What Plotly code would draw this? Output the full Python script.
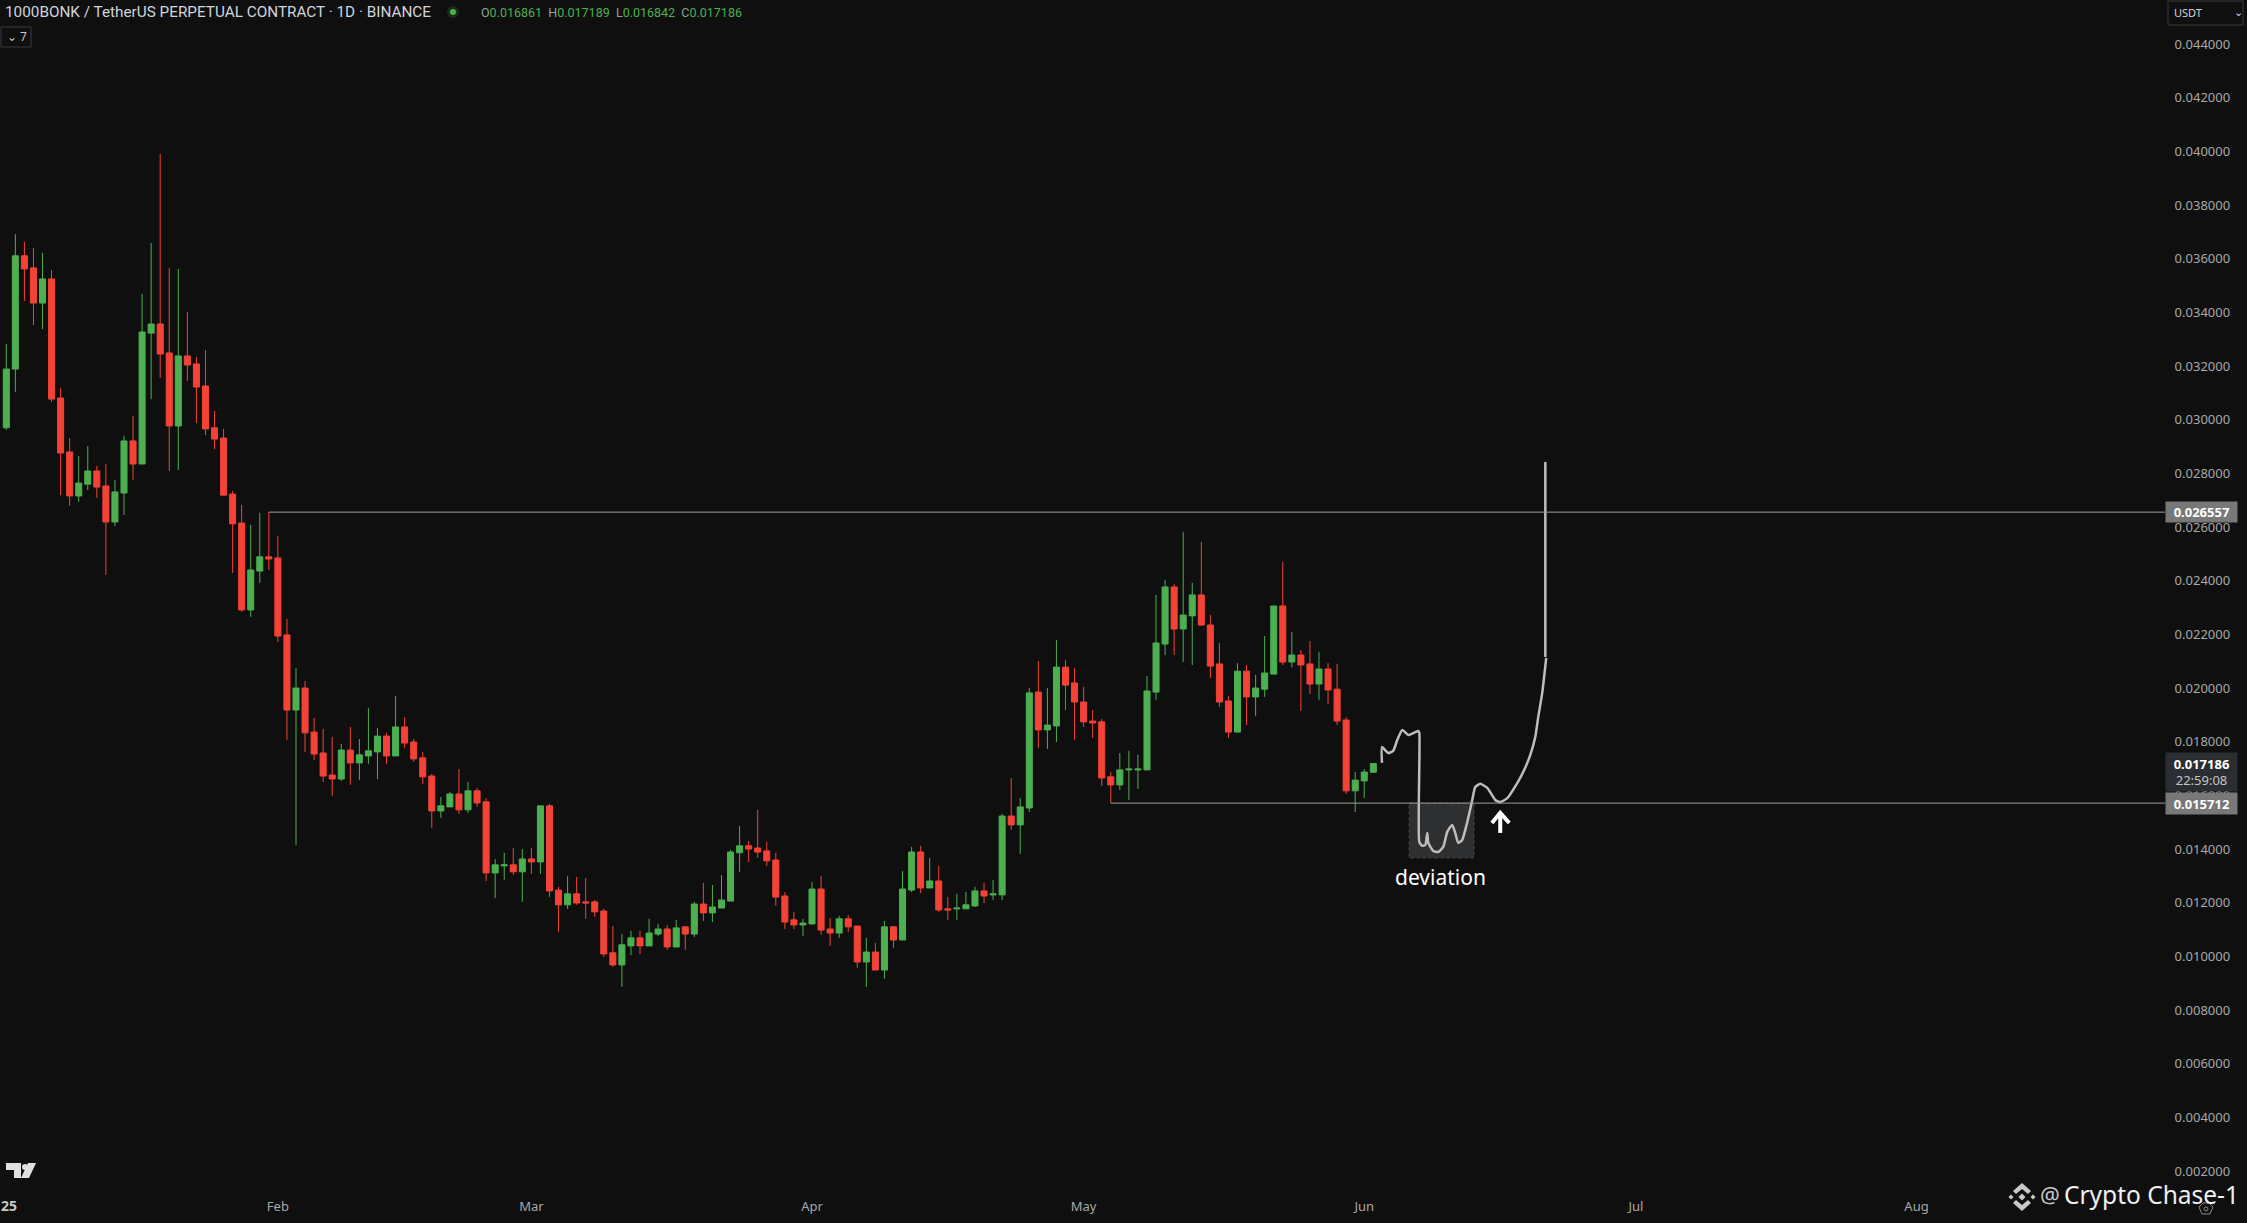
#!/usr/bin/env python3

import numpy as np
import pandas as pd
import plotly.graph_objects as go

# ============================================================
# DATA (prices x 1000)
# ============================================================

opens_k = [
    29.70, 31.89, 36.11, 35.66, 34.35, 35.25, 30.81, 28.80, 27.16, 27.60,
    28.09, 27.53, 26.19, 27.27, 29.21, 28.35, 33.23, 33.57, 32.49, 29.77,
    32.38, 32.08, 31.26, 29.70, 29.32, 27.23, 26.15, 22.91, 24.36, 24.89,
    24.85, 21.98, 19.18, 20.00, 18.36, 17.58, 16.76, 16.61, 17.69, 17.21,
    17.47, 17.62, 18.21, 17.47, 18.55, 17.99, 17.40, 16.72, 15.42, 15.57,
    16.05, 15.46, 16.17, 15.76, 13.11, 13.37, 13.41, 13.15, 13.63, 13.52,
    15.61, 12.47, 11.92, 12.33, 12.03, 12.03, 11.69, 10.13, 9.68, 10.39,
    10.69, 10.39, 10.83, 11.02, 10.35, 11.10, 10.83, 11.95, 11.62, 11.80,
    12.06, 13.86, 14.12, 14.04, 13.93, 13.59, 12.25, 11.36, 11.17, 11.21,
    12.51, 11.02, 10.87, 11.40, 11.13, 9.79, 10.16, 9.49, 11.10, 10.61,
    12.47, 13.89, 12.55, 12.81, 11.77, 11.77, 11.77, 11.88, 12.44, 12.29,
    12.29, 15.23, 14.90, 15.53, 19.85, 18.44, 18.59, 20.78, 20.19, 19.48,
    18.77, 18.74, 16.69, 16.39, 16.95, 16.95, 16.95, 19.85, 21.64, 23.77,
    22.20, 22.69, 23.47, 22.35, 20.90, 19.52, 18.36, 20.63, 19.67, 19.96,
    20.52, 23.06, 20.97, 21.23, 20.90, 20.15, 20.71, 19.96, 18.81, 16.17,
    16.54, 16.861,
]
highs_k = [
    32.82, 36.92, 36.63, 36.40, 36.22, 35.58, 31.19, 29.32, 28.65, 29.02,
    28.28, 28.35, 27.76, 29.40, 30.14, 34.69, 36.59, 39.91, 35.66, 35.62,
    34.02, 32.34, 32.60, 30.33, 29.66, 27.35, 26.82, 26.08, 26.53, 26.56,
    25.67, 22.58, 20.75, 20.26, 18.89, 18.48, 18.18, 17.92, 18.55, 18.10,
    19.26, 18.51, 18.33, 19.70, 18.92, 18.10, 17.62, 16.80, 15.94, 16.13,
    16.98, 16.50, 16.28, 15.90, 13.63, 13.86, 14.04, 14.00, 14.04, 15.61,
    15.68, 12.59, 12.99, 12.96, 12.92, 12.10, 11.77, 11.13, 10.83, 10.95,
    10.95, 11.40, 11.21, 11.17, 11.36, 11.10, 12.03, 12.74, 12.66, 13.03,
    13.97, 14.86, 14.30, 15.46, 14.27, 13.86, 12.40, 11.66, 11.40, 12.77,
    12.99, 11.43, 11.51, 11.54, 11.13, 10.69, 10.50, 11.32, 11.13, 13.18,
    14.08, 14.12, 13.67, 13.37, 12.21, 12.33, 12.40, 12.59, 12.74, 12.85,
    15.31, 16.65, 15.90, 20.00, 21.01, 20.00, 21.79, 21.05, 20.75, 20.04,
    19.18, 18.85, 16.87, 17.58, 17.66, 17.51, 20.45, 23.47, 24.03, 23.88,
    25.82, 23.92, 25.45, 22.72, 21.68, 19.70, 20.93, 20.86, 20.49, 21.94,
    23.06, 24.70, 22.09, 21.42, 21.75, 21.35, 20.93, 20.90, 18.92, 16.87,
    16.98, 17.189,
]
lows_k = [
    29.62, 31.04, 34.43, 33.53, 33.38, 30.66, 27.19, 26.79, 26.94, 27.38,
    27.09, 24.22, 26.04, 26.45, 27.76, 28.35, 30.77, 31.56, 28.09, 28.13,
    31.45, 29.88, 29.43, 28.91, 27.19, 24.29, 22.84, 22.65, 23.92, 24.40,
    21.72, 18.07, 14.15, 17.62, 17.32, 16.50, 15.98, 16.54, 16.39, 16.57,
    17.17, 16.61, 17.17, 17.47, 17.77, 17.25, 16.42, 14.79, 15.16, 15.57,
    15.31, 15.35, 15.57, 12.81, 12.17, 12.85, 13.04, 12.03, 13.07, 13.07,
    12.21, 10.91, 11.77, 11.92, 11.40, 11.47, 9.98, 9.60, 8.86, 10.05,
    10.09, 10.39, 10.76, 10.24, 10.35, 10.24, 10.72, 11.32, 11.28, 11.80,
    12.06, 13.15, 13.52, 13.67, 13.37, 11.88, 11.02, 11.02, 10.76, 11.17,
    10.80, 10.39, 10.69, 10.91, 9.57, 8.86, 9.49, 9.16, 10.31, 10.61,
    12.40, 12.36, 12.55, 11.66, 11.36, 11.36, 11.77, 11.84, 11.99, 12.10,
    12.10, 14.71, 13.82, 15.38, 17.77, 17.73, 17.99, 19.18, 18.07, 18.55,
    18.14, 16.35, 15.72, 16.20, 15.83, 16.24, 16.95, 19.56, 21.23, 21.23,
    20.97, 20.86, 22.31, 20.38, 19.30, 18.14, 18.36, 18.62, 18.96, 19.67,
    20.52, 20.86, 20.78, 19.15, 19.78, 19.56, 19.41, 18.62, 16.05, 15.38,
    15.90, 16.842,
]
closes_k = [
    31.89, 36.11, 35.62, 34.35, 35.25, 30.77, 28.76, 27.16, 27.64, 28.09,
    27.49, 26.19, 27.31, 29.21, 28.35, 33.27, 33.57, 32.45, 29.77, 32.38,
    32.04, 31.22, 29.66, 29.28, 27.19, 26.12, 22.91, 24.40, 24.89, 24.81,
    21.94, 19.18, 20.00, 18.33, 17.54, 16.72, 16.61, 17.69, 17.21, 17.51,
    17.66, 18.21, 17.47, 18.55, 17.95, 17.36, 16.69, 15.42, 15.61, 16.05,
    15.46, 16.17, 15.72, 13.11, 13.41, 13.41, 13.15, 13.63, 13.52, 15.61,
    12.44, 11.92, 12.33, 11.99, 11.99, 11.66, 10.09, 9.68, 10.43, 10.69,
    10.39, 10.87, 11.02, 10.35, 11.06, 10.83, 11.95, 11.62, 11.84, 12.10,
    13.89, 14.12, 14.00, 13.89, 13.56, 12.21, 11.28, 11.17, 11.24, 12.51,
    10.98, 10.87, 11.40, 11.10, 9.79, 10.16, 9.49, 11.10, 10.61, 12.51,
    13.89, 12.55, 12.81, 11.73, 11.73, 11.80, 11.92, 12.44, 12.25, 12.33,
    15.23, 14.90, 15.57, 19.82, 18.44, 18.62, 20.78, 20.11, 19.48, 18.74,
    18.70, 16.65, 16.39, 16.95, 16.98, 16.98, 19.89, 21.68, 23.77, 22.20,
    22.72, 23.47, 22.35, 20.82, 19.48, 18.36, 20.63, 19.67, 20.00, 20.56,
    23.06, 20.97, 21.23, 20.86, 20.15, 20.71, 19.93, 18.77, 16.17, 16.57,
    16.87, 17.186,
]

# hand drawn projection, x in fractional days of June 2025
sketch_days = [2.96, 2.96, 3.65, 4.20, 4.65, 5.20, 5.86, 6.63, 6.96, 7.08, 7.08, 7.41, 7.74, 7.96, 8.07,
               8.62, 9.17, 9.73, 10.17, 10.72, 11.05, 11.38, 11.82, 12.38, 12.93, 13.26, 13.81, 14.59,
               15.47, 16.02, 16.80, 17.90, 18.56, 19.34, 19.89, 20.22, 20.66, 21.10]
sketch_k = [17.21, 17.80, 17.58, 17.66, 18.07, 18.44, 18.25, 18.36, 18.40, 18.33, 14.27, 14.12, 14.15, 14.60,
            14.23, 13.93, 13.89, 14.08, 14.64, 14.90, 14.60, 14.23, 14.34, 15.01, 15.83, 16.31, 16.43,
            16.28, 15.83, 15.75, 15.90, 16.46, 16.87, 17.51, 18.18, 18.92, 19.82, 21.12]
spike_days = [21.0, 21.0]
spike_k = [21.16, 28.43]

arrow_days = [15.1, 16.02, 17.02, None, 16.02, 16.02]
arrow_k = [14.97, 15.35, 14.97, None, 15.35, 14.60]

level_high = 0.026557
level_low = 0.015712
deviation_floor = 0.01367

y_ticks = [round(0.002 * n, 3) for n in range(1, 23)]
x_tick_dates = ["2025-02-01", "2025-03-01", "2025-04-01", "2025-05-01", "2025-06-01", "2025-07-01", "2025-08-01"]
x_tick_text = ["Feb", "Mar", "Apr", "May", "Jun", "Jul", "Aug"]

title_text = "1000BONK / TetherUS PERPETUAL CONTRACT · 1D · BINANCE"
last_close_text = "0.017186"
countdown_text = "22:59:08"

# ============================================================
# SETTINGS
# ============================================================

BG = "#0F0F0F"
GREEN = "#4CAF50"
RED = "#F44336"
LEVEL = "#9E9E9E"
SKETCH = "#BDBDBD"
AXIS_TEXT = "#A8A8A8"

W, H = 2247, 1223
PLOT_W, PLOT_H = 2165, 1193


def june(days):
    return [None if d is None else pd.Timestamp("2025-05-31") + pd.Timedelta(days=d) for d in days]


def milli(values):
    return [None if v is None else v / 1000 for v in values]


def px(x):
    return x / PLOT_W


def py(y):
    return 1 - y / PLOT_H


def poly(points, close=True):
    path = "M " + " L ".join(f"{px(x):.5f},{py(y):.5f}" for x, y in points)
    return path + (" Z" if close else "")


dates = pd.date_range("2025-01-02", periods=len(opens_k))

# ============================================================
# CREATE FIGURE
# ============================================================

fig = go.Figure()

fig.add_trace(go.Candlestick(
    x=dates,
    open=np.array(opens_k) / 1000,
    high=np.array(highs_k) / 1000,
    low=np.array(lows_k) / 1000,
    close=np.array(closes_k) / 1000,
    increasing=dict(line=dict(color=GREEN, width=1), fillcolor=GREEN),
    decreasing=dict(line=dict(color=RED, width=1), fillcolor=RED),
    whiskerwidth=0,
    hoverinfo="skip",
))

fig.add_trace(go.Scatter(
    x=june(sketch_days), y=milli(sketch_k), mode="lines",
    line=dict(color=SKETCH, width=2.5, shape="spline", smoothing=0.5), hoverinfo="skip",
))
fig.add_trace(go.Scatter(
    x=june(spike_days), y=milli(spike_k), mode="lines",
    line=dict(color=SKETCH, width=2.5), hoverinfo="skip",
))
fig.add_trace(go.Scatter(
    x=june(arrow_days), y=milli(arrow_k), mode="lines",
    line=dict(color="white", width=4), connectgaps=False, hoverinfo="skip",
))

# ============================================================
# LEVELS AND BOXES
# ============================================================

shapes = [
    dict(type="rect", layer="below", xref="x", yref="y",
         x0="2025-06-05 23:00", x1="2025-06-13 03:00", y0=level_low, y1=deviation_floor,
         fillcolor="#2E2F31", line=dict(color="#4A4A4A", width=1, dash="dot")),
    dict(type="line", xref="x", yref="y", x0="2025-01-31", x1="2025-08-28 10:48",
         y0=level_high, y1=level_high, line=dict(color=LEVEL, width=1)),
    dict(type="line", xref="x", yref="y", x0="2025-05-04", x1="2025-08-28 10:48",
         y0=level_low, y1=level_low, line=dict(color=LEVEL, width=1)),
    # USDT and legend buttons
    dict(type="rect", xref="paper", yref="paper", x0=px(2168), x1=px(2243), y0=py(25), y1=py(1),
         line=dict(color="#363A45", width=1), fillcolor="rgba(0,0,0,0)"),
    dict(type="rect", xref="paper", yref="paper", x0=px(1), x1=px(31), y0=py(47), y1=py(27),
         line=dict(color="#363A45", width=1), fillcolor="rgba(0,0,0,0)"),
    # status dot
    dict(type="circle", xref="paper", yref="paper", x0=px(447), x1=px(459), y0=py(18), y1=py(6),
         line=dict(width=0), fillcolor="rgba(76,175,80,0.18)"),
    dict(type="circle", xref="paper", yref="paper", x0=px(450), x1=px(456), y0=py(15), y1=py(9),
         line=dict(width=0), fillcolor=GREEN),
]

# TradingView mark
shapes.append(dict(type="path", xref="paper", yref="paper", line=dict(width=0), fillcolor="#E0E0E0",
                   path=poly([(6, 1163), (21, 1163), (21, 1178), (14, 1178), (14, 1170), (6, 1170)])))
shapes.append(dict(type="circle", xref="paper", yref="paper", line=dict(width=0), fillcolor="#E0E0E0",
                   x0=px(22), x1=px(28), y0=py(1170), y1=py(1164)))
shapes.append(dict(type="path", xref="paper", yref="paper", line=dict(width=0), fillcolor="#E0E0E0",
                   path=poly([(28, 1163), (36, 1163), (29, 1178), (21, 1178)])))

# Binance mark
cx, cy = 2022, 1197
for dx, dy, r in [(0, 0, 3.5), (-11, 0, 2.5), (11, 0, 2.5)]:
    shapes.append(dict(type="path", xref="paper", yref="paper", line=dict(width=0), fillcolor="#C9C9C9",
                       path=poly([(cx + dx - r, cy + dy), (cx + dx, cy + dy - r),
                                  (cx + dx + r, cy + dy), (cx + dx, cy + dy + r)])))
for sign in (-1, 1):
    shapes.append(dict(type="path", xref="paper", yref="paper", line=dict(width=0), fillcolor="#C9C9C9",
                       path=poly([(cx - 9, cy + sign * 6), (cx, cy + sign * 14), (cx + 9, cy + sign * 6),
                                  (cx + 6, cy + sign * 3), (cx, cy + sign * 8), (cx - 6, cy + sign * 3)])))

# settings hexagon, half hidden under the watermark
hx, hy = 2206, 1209
shapes.append(dict(type="path", xref="paper", yref="paper", line=dict(color="#8A8A8A", width=1),
                   path=poly([(hx - 7, hy - 2), (hx - 3, hy - 6), (hx + 3, hy - 6),
                              (hx + 7, hy - 2), (hx + 4, hy + 5), (hx - 4, hy + 5)])))
shapes.append(dict(type="circle", xref="paper", yref="paper", line=dict(color="#8A8A8A", width=1),
                   x0=px(hx - 2), x1=px(hx + 2), y0=py(hy + 2), y1=py(hy - 2)))

# ============================================================
# TEXT
# ============================================================


def note(x, y, text, size=13, color="white", family="Noto Sans", anchor="left"):
    return dict(xref="paper", yref="paper", x=px(x), y=py(y), text=text, showarrow=False,
                xanchor=anchor, yanchor="middle", align="left",
                font=dict(family=family, size=size, color=color))


def price_tag(value, text, fill, height):
    return dict(xref="paper", yref="y", x=1, y=value, text=text, showarrow=False, xanchor="left",
                yanchor="middle", width=71, height=height, bgcolor=fill, borderpad=0,
                font=dict(family="Noto Sans", size=13, color="white"))


ohlc_text = (
    '<span style="color:#8FA590">O</span>0.016861  '
    '<span style="color:#8FA590">H</span>0.017189  '
    '<span style="color:#8FA590">L</span>0.016842  '
    '<span style="color:#8FA590">C</span>0.017186'
)

annotations = [
    note(3, 12, title_text, size=15.3, color="#D1D4DC", family="Roboto"),
    note(479, 12, ohlc_text, size=12.5, color=GREEN, family="Roboto"),
    note(5, 37, "⌄ 7", size=12, color="#C8C8C8"),
    note(2172, 12, "USDT", size=11, color="#D1D4DC"),
    note(2232, 11, "⌄", size=11, color="#D1D4DC"),
    note(-1, 1206, "<b>25</b>", size=14, color="#C8C8C8"),
    note(2038, 1194, "@", size=22, color="#C9C9C9"),
    note(2062, 1194, "Crypto Chase-1", size=24.5, color="#F0F0F0"),
    price_tag(level_high, f"<b>{level_high:.6f}</b>", "#787878", 20),
    price_tag(0.01689, f"<b>{last_close_text}</b><br><span style=\"color:#C4C4C4\">{countdown_text}</span>",
              "#2A2E33", 38),
    price_tag(level_low, f"<b>{level_low:.6f}</b>", "#787878", 21),
    dict(xref="x", yref="y", x=june([9.47])[0], y=0.01296, text="deviation", showarrow=False,
         font=dict(family="Noto Sans", size=21, color="white")),
]

# ============================================================
# LAYOUT
# ============================================================

fig.update_layout(
    width=W,
    height=H,
    autosize=False,
    paper_bgcolor=BG,
    plot_bgcolor=BG,
    showlegend=False,
    margin=dict(l=0, r=W - PLOT_W, t=0, b=H - PLOT_H, pad=0),
    hovermode=False,
    boxgap=0.2,
    boxgroupgap=0.167,
    shapes=shapes,
    annotations=annotations,
    xaxis=dict(
        range=["2025-01-01 07:18", "2025-08-28 10:48"],
        tickmode="array", tickvals=x_tick_dates, ticktext=x_tick_text,
        showgrid=False, zeroline=False, showline=False,
        ticks="outside", ticklen=1, tickcolor=BG,
        tickfont=dict(family="Noto Sans", size=13, color=AXIS_TEXT),
        rangeslider=dict(visible=False),
    ),
    yaxis=dict(
        side="right",
        range=[0.00118, 0.045645],
        tickmode="array", tickvals=y_ticks, tickformat=".6f",
        showgrid=False, zeroline=False, showline=False,
        ticks="outside", ticklen=6, tickcolor=BG,
        tickfont=dict(family="Noto Sans", size=13, color=AXIS_TEXT),
    ),
)

fig.write_html(
    "out.html",
    config=dict(displayModeBar=False),
    post_script="document.body.style.margin='0';document.body.style.background='#0F0F0F';",
)
